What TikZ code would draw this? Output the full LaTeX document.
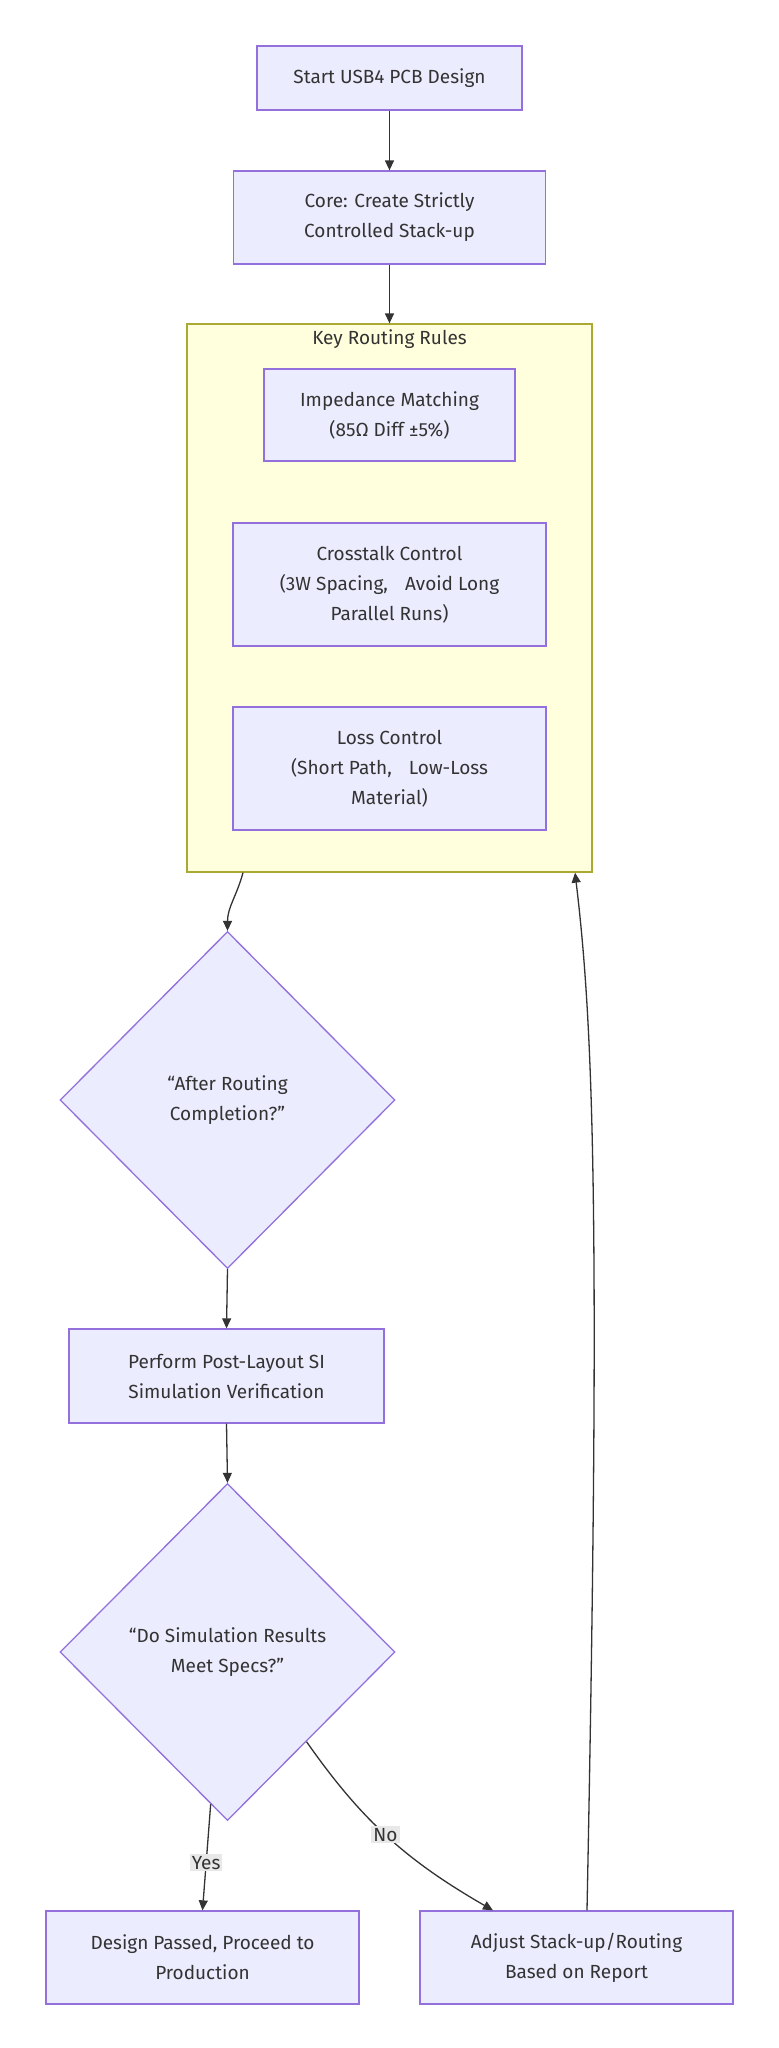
\documentclass[tikz,border=0pt]{standalone}
\usepackage{fontspec}
\setmainfont{Fira Sans}
\usepackage{tikz}
\usetikzlibrary{arrows.meta, positioning, shapes.geometric, calc}
\definecolor{mmdfill}{HTML}{ECECFF}
\definecolor{mmdline}{HTML}{9370DB}
\definecolor{mmdclfill}{HTML}{FFFFDE}
\definecolor{mmdclline}{HTML}{AAAA33}
\definecolor{mmdedge}{HTML}{333333}
\definecolor{mmdlabel}{HTML}{E8E8E8}

\begin{document}
\begin{tikzpicture}[x=1pt, y=-1pt,
    font=\fontsize{19}{30}\selectfont, text=mmdedge,
    box/.style n args={2}{draw=mmdline, fill=mmdfill, line width=1.3pt, inner sep=0pt,
                minimum width=#1, minimum height=#2, align=center},
    decision/.style={diamond, shape aspect=1, draw=mmdline, fill=mmdfill, line width=1.3pt,
                inner sep=0pt, minimum width=335, minimum height=337, align=center},
    cluster/.style={draw=mmdclline, fill=mmdclfill, line width=1.3pt, inner sep=0pt,
                minimum width=405, minimum height=548},
    flow/.style={draw=mmdedge, line width=1.3pt, -{Triangle[length=10pt, width=9pt]}},
    lbl/.style={fill=mmdlabel, inner sep=2pt, text=mmdedge},
]
    \useasboundingbox (0,0) rectangle (779,2048);

    \node[box={265}{64}] (start) at (389.5,78) {Start USB4 PCB Design};
    \node[box={312}{93}] (core) at (389.5,217.5) {Core: Create Strictly\\Controlled Stack-up};

    \node[cluster] (rules) at (389.5,598) {};
    \node (rulestitle) at (389.5,339) {Key Routing Rules};
    \node[box={251}{92}] (imp) at (389.5,415) {Impedance Matching\\(85Ω Diff ±5\%)};
    \node[box={313}{123}] (xtalk) at (389.5,584.5) {Crosstalk Control\\(3W Spacing,\hspace{0.9em}Avoid Long\\Parallel Runs)};
    \node[box={313}{123}] (loss) at (389.5,768.5) {Loss Control\\(Short Path,\hspace{0.9em}Low-Loss\\Material)};

    \node[decision] (done) at (227.5,1100) {“After Routing\\Completion?”};
    \node[box={315}{94}] (sim) at (226.5,1376) {Perform Post-Layout SI\\Simulation Verification};
    \node[decision] (meet) at (227.5,1652) {“Do Simulation Results\\Meet Specs?”};
    \node[box={313}{93}] (pass) at (202.5,1957.5) {Design Passed, Proceed to\\Production};
    \node[box={313}{93}] (adjust) at (576.5,1957.5) {Adjust Stack-up/Routing\\Based on Report};

    \draw[flow] (start) -- (core);
    \draw[flow] (core) -- (rules);
    \draw[flow] ([xshift=-146.5]rules.south) to[out=-105, in=90] (done.north);
    \draw[flow] (done.south) -- (sim.north);
    \draw[flow] (sim.south) -- (meet.north);
    \draw[flow] ($(meet.south)!0.1!(meet.west)$) -- node[lbl, pos=0.55] {Yes} (pass.north);
    \draw[flow] ($(meet.south)!0.47!(meet.east)$) to[out=-55, in=150] node[lbl, pos=0.48] {No} ([xshift=-83.5]adjust.north);
    \draw[flow] ([xshift=10.5]adjust.north) .. controls +(14,-700) and +(18,150) .. ([xshift=185.5]rules.south);
\end{tikzpicture}
\end{document}
